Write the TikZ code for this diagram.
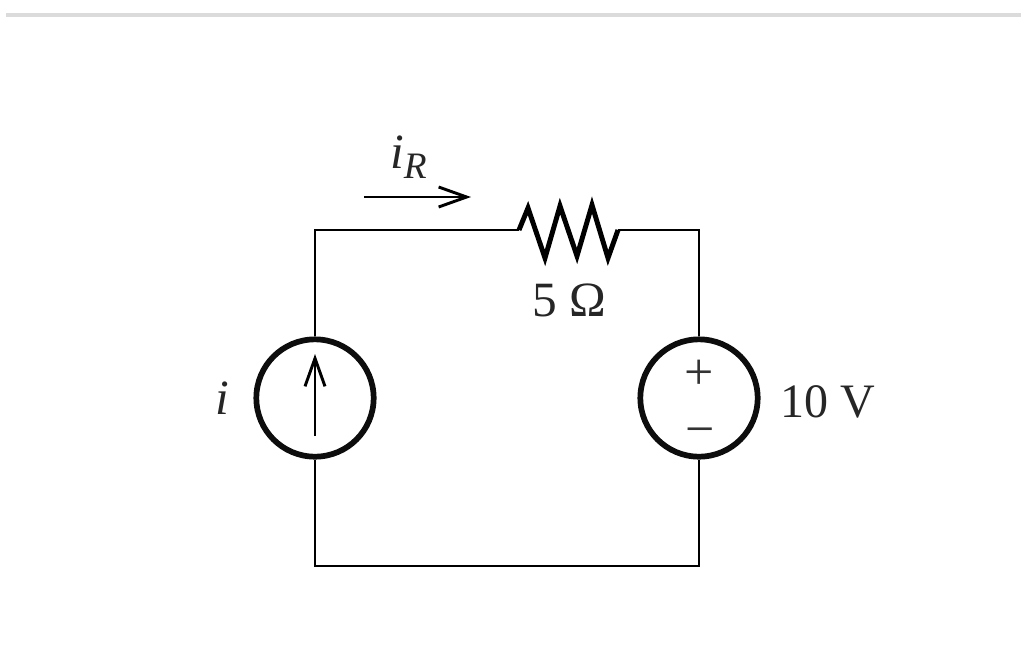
\documentclass[tikz,border=0pt]{standalone}
\usepackage{fontspec}
\setmainfont{Liberation Serif}
\usetikzlibrary{arrows.meta}
\tikzset{
  wire/.style={line width=2.2pt,black,line join=miter},
  source/.style={circle,draw=black!95,line width=4.3pt,minimum size=88pt,inner sep=0pt},
  reswire/.style={line width=3.7pt,black,line join=miter,miter limit=10},
  current/.style={line width=2.2pt,black,-{Straight Barb[length=21pt,width=15pt,line width=2.2pt]}},
  lbl/.style={inner sep=0pt,font=\fontsize{37}{37}\selectfont,text=black!85},
  sym/.style={inner sep=0pt,font=\fontsize{39}{39}\selectfont,text=black!80}
}
\begin{document}
\begin{tikzpicture}[x=0.75pt,y=-0.75pt]
\useasboundingbox (0,0) rectangle (1024,658);
\fill[white] (0,0) rectangle (1024,658);
\coordinate (ruleL) at (6,15);
\coordinate (ruleR) at (1021,15);
\draw[line width=2.6pt,black!14] (ruleL) -- (ruleR);

\node[source] (I) at (315,398) {};
\node[source] (V) at (699,398) {};
\coordinate (TL) at (315,230);
\coordinate (TR) at (699,230);
\coordinate (BL) at (315,566);
\coordinate (BR) at (699,566);
\coordinate (Ra) at (519,230);
\coordinate (Rb) at (618,230);

\draw[wire] (I.north) -- (TL) -- (Ra);
\draw[wire] (Rb) -- (TR) -- (V.north);
\draw[wire] (I.south) -- (BL) -- (BR) -- (V.south);
\draw[reswire] (Ra) -- (528,208) -- (545,258) -- (560,206) -- (577,256) -- (592,205) -- (608,258) -- (Rb);

\coordinate (ia) at (315,436);
\coordinate (ib) at (315,354);
\draw[current] (ia) -- (ib);
\coordinate (ra) at (364,197);
\coordinate (rb) at (471,197);
\draw[current] (ra) -- (rb);

\node[lbl,anchor=base] (iL) at (222,414) {\textit{i}};
\node[lbl,anchor=base west] (iR) at (390,168) {\textit{i}\raisebox{-8pt}{\fontsize{28}{28}\selectfont\textit{R}}};
\node[lbl,anchor=base] (ohm) at (569,316) {5 Ω};
\node[lbl,anchor=base west,font=\fontsize{36}{36}\selectfont] (volt) at (780,417) {10 V};
\node[sym] (plus) at (699,375) {+};
\node[sym] (minus) at (700,437) {−};
\end{tikzpicture}
\end{document}
